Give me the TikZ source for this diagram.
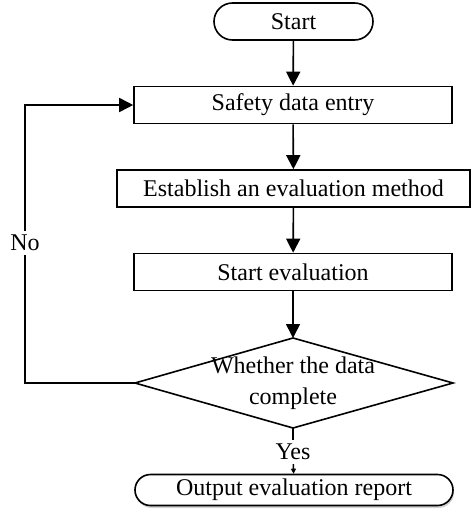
\documentclass[tikz,border=0pt]{standalone}
\usepackage{fontspec}
\setmainfont{Liberation Serif}
\usetikzlibrary{arrows.meta,shapes.geometric,shapes.misc,shadows}
\begin{document}
\begin{tikzpicture}[x=1pt,y=-1pt,
  line width=1.6pt,
  font=\fontsize{24}{28}\selectfont,
  box/.style={draw,rectangle,minimum height=37pt,inner sep=0pt},
  term/.style={draw,rounded rectangle,minimum height=37pt,inner sep=0pt},
  arr/.style={-{Triangle[length=14pt,width=14pt]}},
  smallarr/.style={-{Triangle[length=5pt,width=5pt]}}
]
\useasboundingbox (0,0) rectangle (474,519);
\node[term,minimum width=159pt] (start) at (293.5,21.5) {Start};
\node[box,minimum width=318pt] (safety) at (293,105) {Safety data entry};
\node[box,minimum width=353pt] (est) at (293.5,188.5) {Establish an evaluation method};
\node[box,minimum width=318pt] (eval) at (293,272) {Start evaluation};
\draw (293,338) coordinate (dt) -- (453,383) coordinate (dr) -- (293,428) coordinate (db) -- (135,383) coordinate (dl) -- cycle;
\node[align=center,font=\fontsize{24}{31}\selectfont] (q) at (293,383) {Whether the data\\complete};
\node[term,fill=white,minimum width=318pt,minimum height=31pt,
  drop shadow={shadow xshift=1pt,shadow yshift=-2.5pt,opacity=0.35}] (out) at (294,490) {Output evaluation report};
\coordinate (corner1) at (25,383);
\coordinate (corner2) at (25,105);
\node (no) at (25,243) {No};
\node (yes) at (293,452) {Yes};
\draw[arr] (start) -- (safety);
\draw[arr] (safety) -- (est);
\draw[arr] (est) -- (eval);
\draw[arr] (eval) -- (dt);
\draw (db) -- (yes);
\draw[smallarr] (yes) -- (out);
\draw (dl) -- (corner1) -- (no);
\draw[arr] (no) -- (corner2) -- (safety);
\end{tikzpicture}
\end{document}
